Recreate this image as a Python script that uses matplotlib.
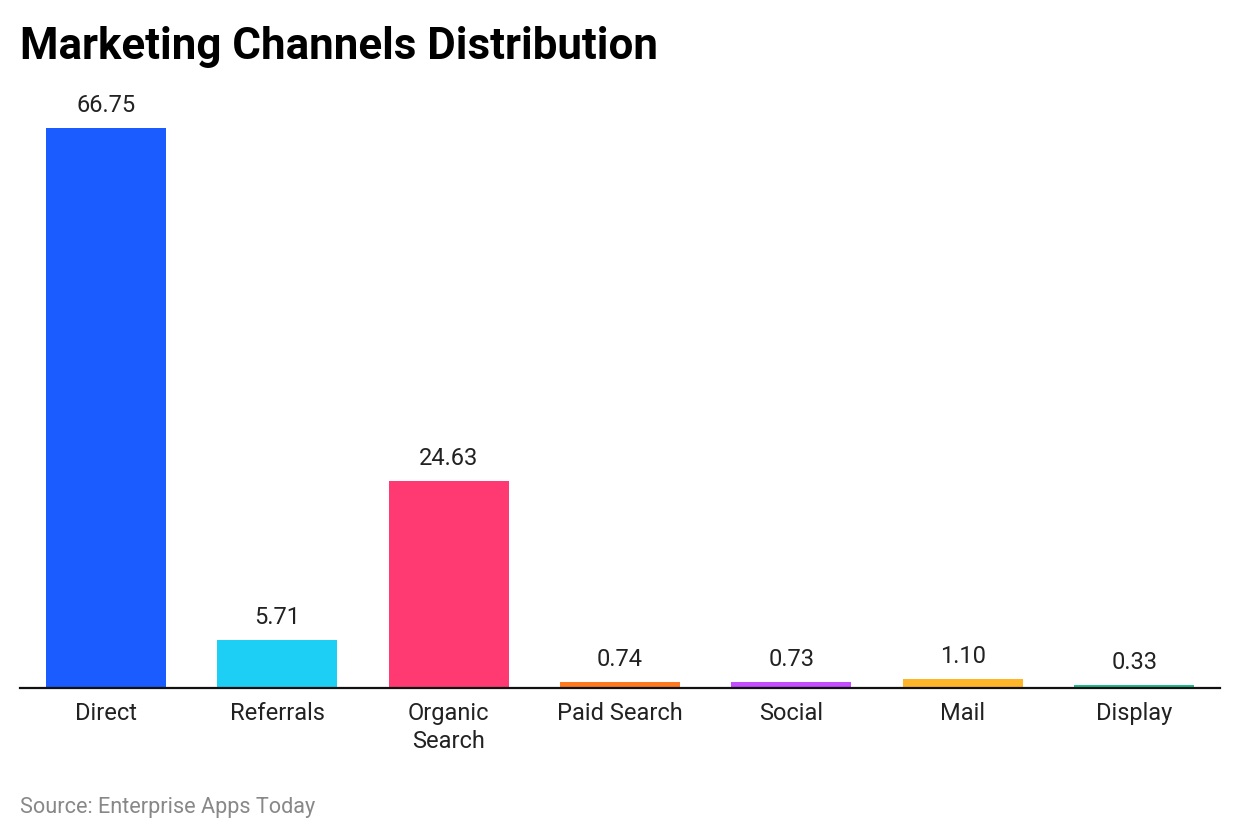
import matplotlib.pyplot as plt

plt.rcParams['font.family'] = ['Roboto', 'DejaVu Sans']

channels = ['Direct', 'Referrals', 'Organic\nSearch', 'Paid Search', 'Social', 'Mail', 'Display']
shares = [66.75, 5.71, 24.63, 0.74, 0.73, 1.10, 0.33]
colors = ['#1a5cff', '#1ecff5', '#ff3a72', '#ff7a1f', '#c34dff', '#ffb52a', '#18c08f']

fig = plt.figure(figsize=(12.4, 8.4), dpi=100)
ax = fig.add_axes([20 / 1240, (840 - 688) / 840, 1200 / 1240, 587 / 840])

x = range(len(channels))
bars = ax.bar(x, shares, width=0.7, color=colors)

for b, v in zip(bars, shares):
    ax.annotate(f'{v:.2f}', (b.get_x() + b.get_width() / 2, v),
                xytext=(0, 8), textcoords='offset points',
                ha='center', va='bottom', fontsize=17, color='#222222')

ax.set_xlim(-0.5, len(channels) - 0.5)
ax.set_ylim(0, 70)
ax.set_xticks(list(x))
ax.set_xticklabels(channels, fontsize=17, color='#222222', linespacing=1.3)
ax.tick_params(axis='x', length=0, pad=10)
ax.set_yticks([])
for s in ['top', 'right', 'left']:
    ax.spines[s].set_visible(False)
ax.spines['bottom'].set_linewidth(1.6)
ax.spines['bottom'].set_color('#111111')

fig.text(20 / 1240, 1 - 47 / 840, 'Marketing Channels Distribution',
         fontsize=31.6, fontweight='bold', ha='left', va='center')
fig.text(20 / 1240, 1 - 808 / 840, 'Source: Enterprise Apps Today',
         fontsize=15.6, color='#888888', ha='left', va='center')

fig.savefig('out.png', dpi=100)
